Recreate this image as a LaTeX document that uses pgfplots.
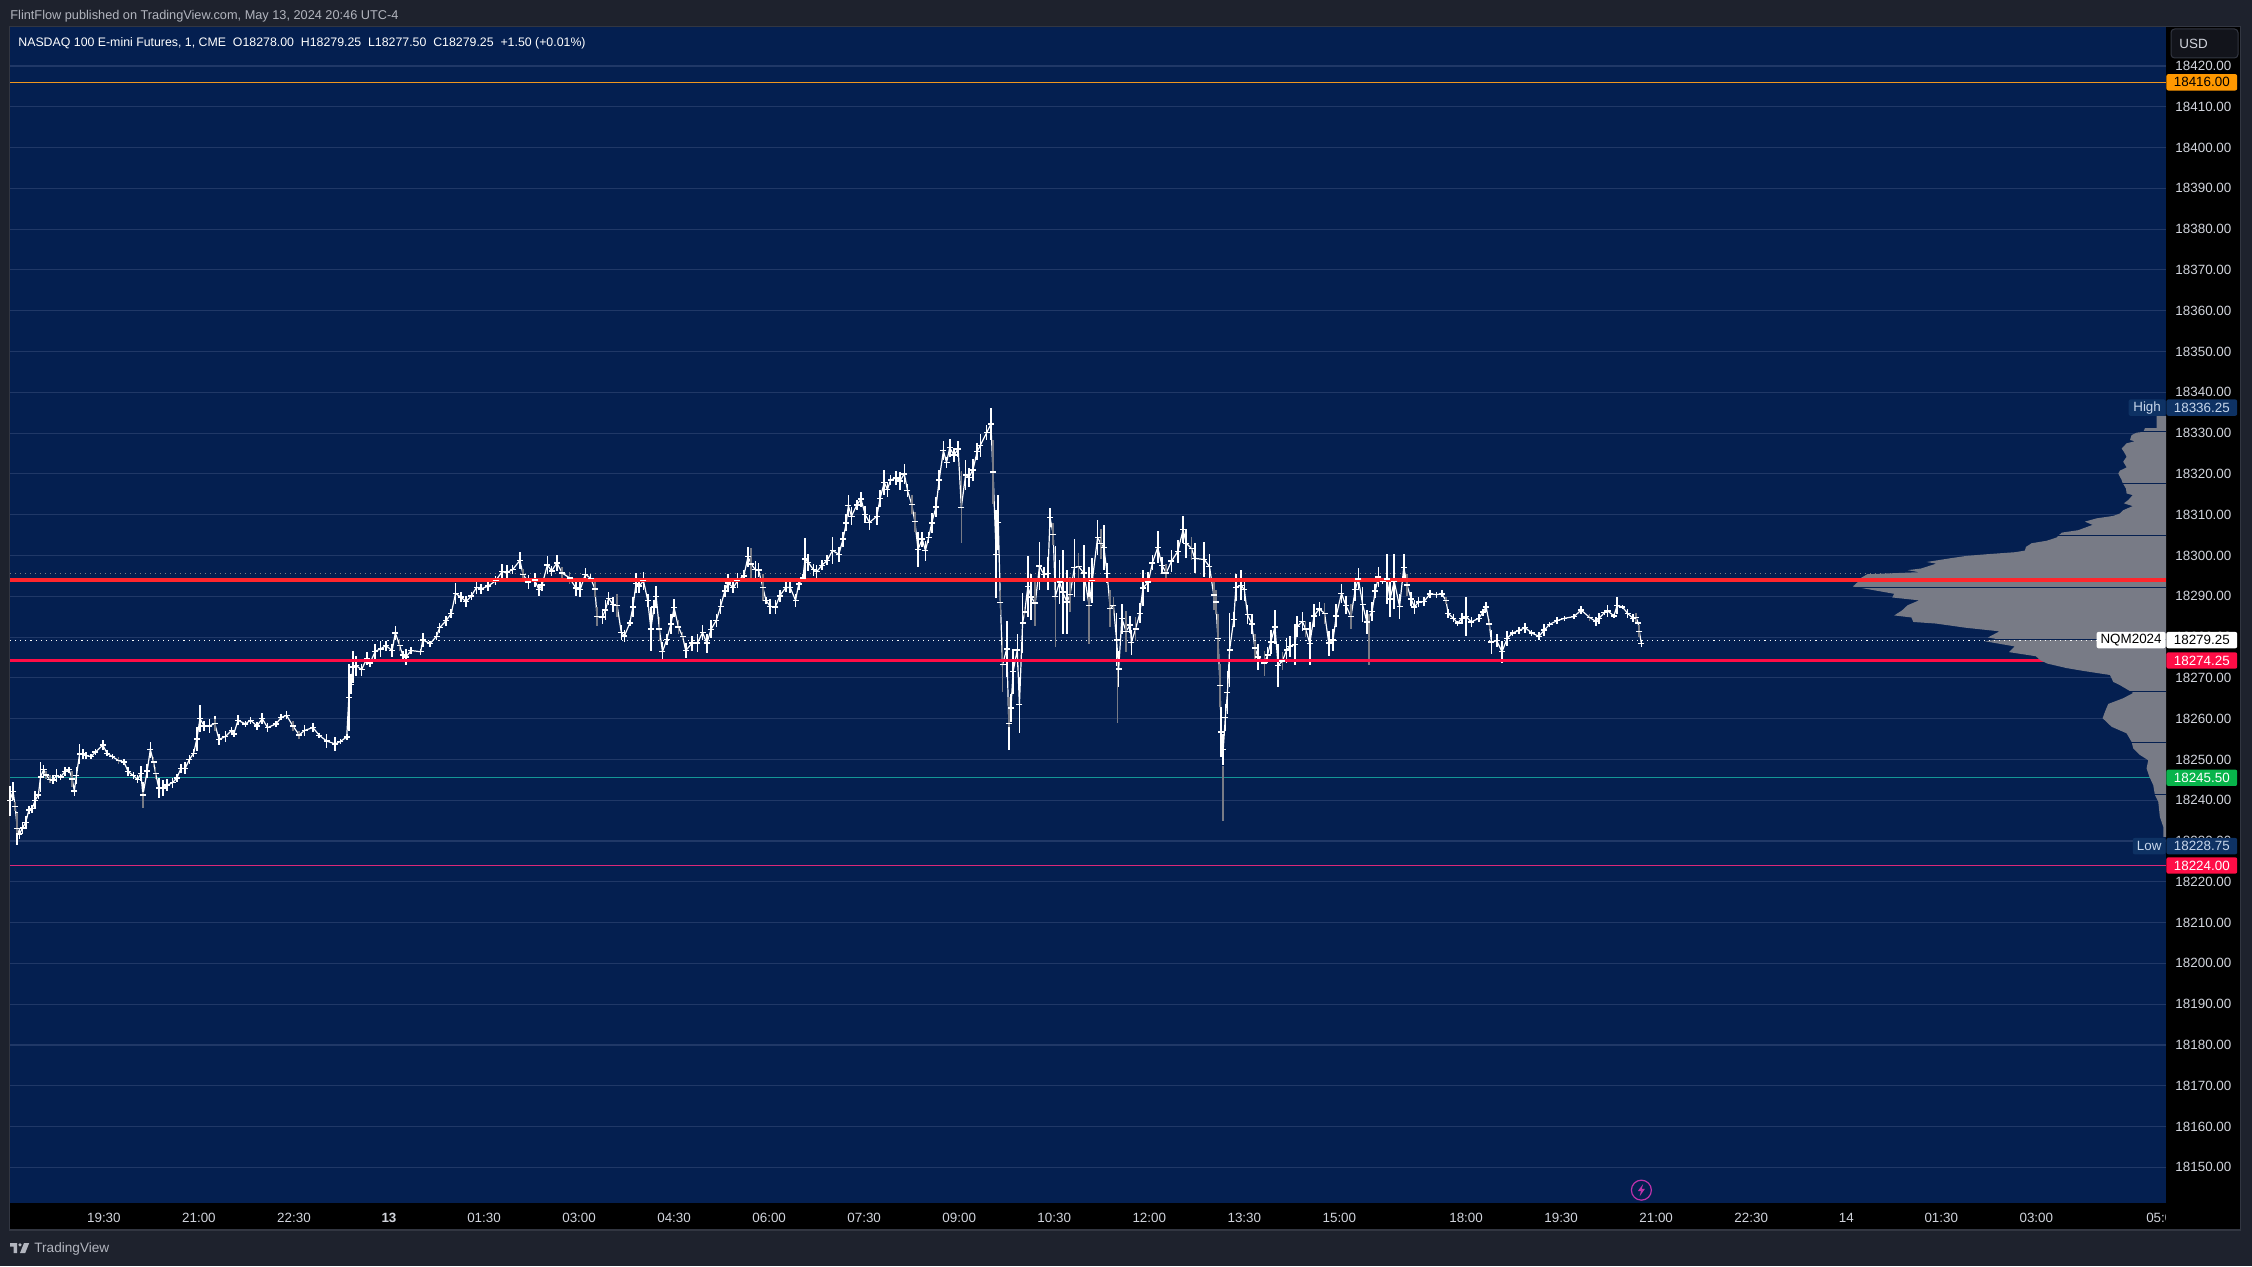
\documentclass[border=0pt]{standalone}
\usepackage{pgfplots}
\usepackage{pgfplotstable}
\pgfplotsset{compat=1.18}
\usepackage{fontspec}
\setmainfont{Liberation Sans}
\definecolor{figbg}{RGB}{30,34,45}
\definecolor{frameln}{RGB}{50,54,65}
\definecolor{navy}{RGB}{4,31,80}
\definecolor{gridc}{RGB}{32,56,103}
\definecolor{prof}{RGB}{120,123,134}
\definecolor{barg}{RGB}{120,123,134}
\definecolor{labtxt}{RGB}{209,212,220}
\definecolor{headtxt}{RGB}{178,181,190}
\definecolor{redthick}{RGB}{255,38,44}
\definecolor{crimson}{RGB}{255,13,70}
\definecolor{tealln}{RGB}{20,150,150}
\definecolor{pinkln}{RGB}{220,40,120}
\definecolor{orangeln}{RGB}{240,150,30}
\definecolor{hlbox}{RGB}{14,50,100}
\definecolor{hltxt}{RGB}{200,215,235}
\definecolor{greenbox}{RGB}{8,180,75}
\definecolor{orangebox}{RGB}{255,152,0}
\definecolor{icon}{RGB}{190,50,170}
\newcommand{\tfs}{\fontsize{6.7}{8}\selectfont}
% x = bar index (minutes of trading, 0 = 13 May 00:00), low, high
\pgfplotstableread{
x lo hi
-359 18236.3 18243.7
-356 18240.0 18244.5
-354 18237.5 18239.6
-352 18229.0 18237.1
-350 18230.6 18233.0
-347 18231.8 18234.7
-344 18233.0 18236.3
-341 18236.7 18238.8
-338 18237.1 18239.0
-335 18237.9 18242.4
-332 18240.4 18242.4
-330 18242.0 18249.4
-327 18246.5 18248.6
-325 18245.3 18247.3
-321 18244.1 18246.1
-318 18243.9 18246.1
-315 18244.5 18247.7
-311 18244.9 18246.5
-307 18246.1 18248.2
-303 18246.9 18248.4
-300 18243.2 18247.3
-298 18241.2 18243.7
-296 18244.1 18248.2
-293 18249.0 18253.9
-290 18250.2 18252.6
-287 18250.2 18251.8
-282 18250.2 18251.4
-278 18251.0 18252.6
-271 18252.2 18254.8
-267 18250.8 18252.2
-262 18250.2 18251.4
-256 18249.0 18250.6
-251 18248.6 18250.2
-247 18246.1 18248.2
-242 18245.3 18246.9
-238 18244.1 18246.1
-235 18244.9 18248.6
-233 18238.2 18244.5
-229 18245.7 18249.0
-226 18250.6 18254.5
-223 18248.2 18250.6
-221 18245.3 18248.2
-218 18240.6 18245.3
-214 18241.0 18244.9
-210 18242.4 18245.3
-205 18243.2 18245.7
-201 18244.5 18246.5
-197 18246.9 18249.0
-193 18246.5 18249.4
-189 18249.0 18251.0
-185 18250.6 18252.6
-182 18252.2 18258.0
-179 18256.7 18263.5
-175 18257.1 18259.6
-170 18256.7 18260.0
-165 18257.1 18260.6
-161 18253.5 18256.3
-155 18254.3 18257.1
-149 18256.3 18258.0
-147 18255.5 18257.1
-143 18258.4 18260.8
-136 18258.0 18259.6
-131 18258.8 18260.6
-125 18257.3 18259.2
-120 18258.8 18261.5
-115 18256.7 18258.8
-107 18258.0 18259.6
-102 18259.6 18261.1
-97 18260.0 18261.9
-91 18257.1 18259.6
-85 18255.1 18257.1
-80 18255.9 18258.4
-72 18256.7 18259.0
-66 18255.3 18256.7
-59 18253.0 18256.3
-51 18252.1 18255.5
-46 18253.9 18255.1
-40 18254.7 18256.3
-38 18257.1 18273.5
-36 18266.1 18271.0
-34 18269.0 18276.7
-31 18270.6 18275.5
-26 18270.6 18273.5
-21 18273.1 18276.3
-18 18272.7 18274.7
-13 18274.7 18278.4
-8 18275.1 18279.2
-3 18276.7 18279.2
3 18275.1 18278.4
6 18279.2 18282.7
10 18276.7 18279.6
13 18274.7 18276.7
16 18273.1 18277.2
21 18275.9 18277.6
30 18275.8 18277.2
32 18277.6 18281.2
39 18277.7 18279.2
45 18279.2 18281.2
48 18281.2 18283.7
54 18282.9 18285.3
59 18284.9 18287.0
63 18288.2 18293.5
68 18288.6 18291.0
73 18287.5 18290.2
78 18289.2 18291.0
83 18290.6 18293.9
87 18290.6 18293.1
94 18291.4 18293.9
101 18292.7 18294.9
107 18294.3 18298.0
112 18294.3 18297.6
117 18295.5 18297.6
124 18296.8 18300.8
127 18293.9 18296.8
132 18291.9 18295.1
138 18292.3 18295.9
142 18290.2 18293.1
145 18291.4 18294.3
150 18295.5 18300.0
154 18295.1 18297.6
159 18296.4 18300.2
164 18294.3 18297.2
171 18293.1 18296.0
177 18290.2 18293.9
181 18289.8 18293.5
186 18293.9 18297.2
191 18293.5 18295.5
195 18289.8 18293.9
197 18282.9 18287.4
202 18283.4 18286.6
205 18284.2 18289.1
208 18287.9 18291.1
212 18286.2 18289.9
216 18285.0 18290.7
220 18279.3 18283.0
223 18278.9 18281.8
228 18282.6 18284.2
231 18285.0 18289.9
234 18290.8 18295.8
237 18290.8 18294.4
241 18291.6 18296.0
245 18287.5 18290.8
248 18276.8 18287.5
251 18285.8 18289.1
253 18287.5 18292.4
256 18279.3 18285.0
259 18274.0 18278.9
263 18278.0 18280.9
267 18280.9 18285.8
270 18285.0 18289.5
274 18280.9 18284.2
278 18279.3 18281.3
281 18275.0 18278.5
287 18276.8 18280.5
292 18276.4 18280.9
297 18279.3 18283.0
301 18276.3 18280.9
305 18279.7 18284.2
310 18282.6 18285.8
314 18285.8 18289.5
318 18289.9 18292.8
321 18291.1 18295.6
326 18290.8 18293.6
330 18292.0 18295.6
336 18293.6 18296.4
340 18297.3 18302.2
343 18294.0 18301.8
347 18294.4 18298.9
350 18294.8 18298.1
354 18289.1 18295.6
357 18288.3 18289.9
361 18285.8 18289.5
366 18285.8 18289.1
370 18288.7 18291.6
376 18291.1 18293.6
380 18290.8 18293.6
385 18287.5 18290.8
388 18291.6 18294.4
392 18293.6 18295.6
394 18294.0 18304.5
397 18296.4 18300.5
402 18295.2 18298.1
405 18294.4 18297.7
410 18296.4 18298.9
415 18297.7 18300.1
420 18298.1 18304.6
426 18298.5 18302.2
430 18302.2 18305.9
433 18305.9 18310.0
435 18309.6 18314.9
438 18307.5 18312.0
443 18311.2 18313.6
447 18312.0 18315.7
451 18307.9 18312.0
455 18306.3 18310.0
462 18307.5 18312.0
465 18312.0 18316.1
469 18314.9 18321.0
472 18314.5 18318.1
475 18317.3 18319.8
480 18317.3 18320.6
484 18316.1 18320.6
488 18317.7 18322.6
491 18314.5 18317.7
495 18310.4 18314.9
498 18305.9 18310.8
501 18297.3 18305.9
505 18302.2 18305.9
508 18298.9 18303.8
511 18303.0 18305.9
514 18305.5 18310.4
518 18309.6 18314.5
521 18316.1 18321.0
525 18323.5 18328.0
528 18321.4 18324.3
531 18324.3 18328.8
535 18323.0 18326.3
539 18324.3 18328.0
542 18303.0 18320.6
546 18316.1 18323.5
549 18316.9 18321.4
553 18318.5 18323.9
557 18323.5 18327.5
560 18324.3 18330.0
566 18328.4 18332.0
570 18328.4 18336.3
572 18312.8 18328.4
575 18289.5 18311.2
577 18301.4 18314.9
579 18285.4 18291.6
581 18266.6 18280.0
585 18270.3 18284.2
587 18252.3 18265.4
589 18259.2 18266.2
591 18266.2 18277.2
595 18272.8 18280.9
597 18256.5 18270.3
600 18276.0 18290.8
602 18285.0 18287.5
605 18285.0 18299.8
608 18284.2 18295.6
612 18282.6 18294.0
616 18291.6 18303.4
620 18293.6 18297.3
624 18291.6 18299.7
626 18307.1 18311.6
629 18302.6 18307.9
631 18277.7 18302.2
635 18288.3 18298.9
638 18280.9 18301.4
642 18280.9 18296.4
645 18286.2 18294.8
649 18289.9 18304.2
653 18294.0 18300.6
658 18289.1 18302.6
663 18278.5 18297.3
666 18288.3 18299.3
671 18300.2 18308.7
674 18299.3 18306.7
677 18296.5 18307.5
680 18293.2 18298.1
683 18282.6 18291.6
686 18285.8 18289.9
689 18272.8 18285.8
691 18267.8 18276.8
694 18280.9 18288.3
698 18276.4 18286.6
702 18280.9 18285.0
703 18275.6 18281.8
707 18279.3 18285.0
711 18283.4 18288.3
714 18287.5 18296.5
719 18291.1 18296.0
723 18296.4 18300.1
728 18298.1 18305.9
732 18295.6 18299.7
736 18293.6 18298.1
741 18296.0 18301.4
747 18298.1 18303.8
752 18303.0 18309.6
755 18299.7 18306.7
760 18298.9 18304.6
763 18295.6 18303.0
772 18294.7 18303.3
777 18294.3 18300.4
781 18286.6 18293.9
783 18285.7 18291.5
785 18273.9 18285.7
787 18262.9 18273.5
788 18250.6 18262.9
790 18248.6 18256.3
792 18257.1 18263.7
794 18261.2 18271.9
796 18267.8 18286.1
800 18282.5 18286.1
802 18289.0 18295.5
807 18289.0 18296.4
810 18289.0 18294.3
813 18283.3 18287.8
817 18280.8 18285.7
820 18273.9 18280.8
823 18271.9 18278.4
829 18270.6 18276.7
832 18273.9 18277.6
835 18276.0 18281.7
839 18278.4 18286.6
842 18267.8 18278.4
846 18271.9 18276.3
850 18273.9 18280.0
853 18275.1 18280.4
858 18273.1 18283.3
860 18280.0 18285.3
865 18281.7 18286.2
868 18280.0 18284.1
872 18273.1 18283.7
876 18282.5 18288.2
881 18285.3 18288.6
886 18283.3 18288.6
890 18275.5 18281.7
894 18276.7 18282.1
897 18282.5 18288.2
902 18288.6 18293.1
906 18285.7 18290.2
911 18282.1 18288.2
915 18289.0 18294.3
918 18291.5 18297.0
922 18283.7 18292.3
926 18280.8 18286.6
931 18284.1 18288.6
934 18289.8 18293.1
937 18292.3 18297.2
941 18293.1 18294.3
945 18288.2 18300.4
948 18284.9 18293.9
952 18287.0 18300.4
957 18284.5 18290.6
961 18293.9 18300.6
964 18290.2 18295.5
968 18287.8 18291.1
971 18285.7 18289.0
975 18287.4 18289.8
980 18287.8 18289.8
986 18289.7 18291.6
992 18289.8 18291.3
997 18289.7 18291.5
1001 18288.2 18289.8
1003 18284.9 18287.0
1008 18283.7 18285.7
1012 18282.9 18284.1
1016 18283.3 18286.1
1020 18280.4 18289.8
1025 18282.5 18284.9
1032 18283.7 18285.7
1036 18285.3 18287.0
1039 18286.1 18288.6
1042 18282.0 18284.5
1044 18276.0 18281.7
1049 18277.6 18280.8
1054 18273.7 18279.2
1059 18278.0 18281.7
1064 18280.4 18281.7
1070 18280.7 18282.5
1076 18281.2 18283.7
1082 18280.4 18281.7
1089 18279.2 18281.2
1094 18280.4 18283.3
1099 18282.5 18283.7
1106 18283.3 18284.9
1113 18284.1 18285.3
1122 18284.5 18285.7
1129 18285.7 18287.5
1137 18284.1 18285.7
1143 18282.9 18284.9
1146 18283.3 18286.1
1151 18285.3 18286.7
1154 18284.9 18288.0
1160 18284.8 18285.7
1163 18285.7 18289.7
1168 18287.0 18288.0
1173 18284.9 18287.0
1178 18283.7 18285.7
1181 18283.7 18286.1
1183 18283.1 18283.7
1184 18280.0 18282.9
1186 18277.5 18279.2
}\pricebars
% bars that closed lower, drawn grey
\pgfplotstableread{
x lo hi
-354 18237.5 18239.6
-352 18232.0 18237.1
-325 18245.3 18247.3
-321 18244.1 18246.1
-300 18243.2 18247.3
-256 18249.0 18250.6
-233 18238.2 18242.0
-223 18248.2 18250.6
-221 18245.3 18248.2
-165 18257.1 18260.0
-91 18257.1 18259.6
-85 18255.1 18257.1
10 18276.7 18279.6
127 18293.9 18296.8
164 18294.3 18297.2
171 18293.1 18296.0
195 18289.8 18293.9
197 18282.9 18287.4
216 18285.0 18290.7
256 18279.3 18285.0
274 18280.9 18284.2
278 18279.3 18281.3
343 18294.0 18301.8
354 18289.1 18295.6
495 18310.4 18314.9
498 18305.9 18310.8
542 18303.0 18320.6
572 18312.8 18328.4
579 18285.4 18291.6
581 18266.6 18280.0
587 18258.0 18265.4
602 18285.0 18287.5
612 18282.6 18294.0
629 18302.6 18307.9
631 18277.7 18290.0
645 18286.2 18294.8
653 18294.0 18300.6
663 18278.5 18290.0
674 18299.3 18306.7
683 18282.6 18291.6
686 18285.8 18289.9
690 18259.0 18274.4
698 18276.4 18286.6
707 18279.3 18285.0
736 18293.6 18298.1
760 18298.9 18304.6
781 18286.6 18293.9
783 18285.7 18291.5
785 18273.9 18285.7
787 18262.9 18273.5
790 18235.1 18248.6
820 18273.9 18280.8
829 18270.6 18276.7
846 18271.9 18276.3
868 18280.0 18284.1
886 18283.3 18288.6
911 18282.1 18288.2
928 18273.3 18285.7
964 18290.2 18295.5
1001 18288.2 18289.8
1042 18282.0 18284.5
1137 18284.1 18285.7
1181 18283.7 18286.1
1184 18280.0 18282.9
}\downbars
% volume profile outline: left edge (in bars) against price
\pgfplotstableread{
x y
1682.8 18334.2
1673.9 18334.2
1673.9 18331.2
1662.9 18331.2
1661.3 18330.3
1655.0 18330.1
1650.2 18329.5
1648.7 18328.3
1653.4 18328.0
1645.5 18327.5
1640.8 18326.2
1643.0 18325.4
1645.5 18324.2
1642.3 18323.0
1645.5 18321.6
1639.2 18320.8
1637.6 18320.1
1640.8 18318.5
1641.7 18317.8
1644.9 18316.4
1645.5 18315.2
1651.2 18314.8
1647.1 18313.6
1643.0 18312.8
1651.2 18312.1
1642.3 18311.1
1639.2 18310.3
1632.9 18309.7
1617.1 18309.1
1606.0 18308.3
1613.3 18307.5
1599.7 18306.2
1584.0 18305.6
1579.2 18304.4
1569.7 18303.6
1555.5 18303.0
1550.2 18302.1
1549.2 18301.2
1539.8 18300.8
1512.9 18300.3
1494.0 18299.9
1478.2 18299.3
1456.2 18298.4
1465.3 18298.0
1450.8 18296.8
1438.1 18296.4
1449.0 18295.9
1400.0 18295.4
1394.6 18294.6
1391.0 18293.5
1386.3 18292.4
1403.7 18291.6
1425.4 18290.6
1423.6 18289.7
1449.0 18289.0
1438.1 18287.8
1432.7 18286.5
1425.4 18285.3
1441.7 18284.8
1443.5 18283.7
1465.3 18283.3
1492.5 18282.3
1525.1 18281.4
1514.2 18279.9
1525.1 18279.4
1510.6 18279.0
1539.6 18277.7
1534.2 18276.3
1559.5 18275.3
1563.9 18274.3
1570.4 18273.5
1588.5 18272.4
1604.5 18271.7
1629.7 18270.7
1632.9 18269.0
1639.2 18268.2
1647.1 18267.0
1651.8 18266.3
1642.3 18265.0
1628.1 18263.6
1625.0 18261.7
1622.8 18260.1
1631.3 18258.0
1645.5 18256.4
1650.2 18254.3
1651.8 18252.7
1658.1 18251.1
1666.0 18249.8
1664.4 18247.8
1667.0 18245.8
1670.7 18243.7
1672.3 18241.3
1675.5 18239.6
1677.0 18235.9
1680.2 18233.5
1680.2 18231.0
1682.8 18231.0
}\profile
\begin{document}
\begin{tikzpicture}[x=1pt,y=1pt]
\useasboundingbox (0,0) rectangle (1126,633);
\fill[figbg] (0,0) rectangle (1126,633);
\fill[black,draw=frameln,line width=0.6pt] (4.6,18) rectangle (1120.4,619.9);
\node[anchor=west,inner sep=0,text=headtxt,font=\fontsize{6.37}{8}\selectfont] at (5,625) {FlintFlow published on TradingView.com, May 13, 2024 20:46 UTC-4};
\fill[headtxt] (5,11.5) -- (8.6,11.5) -- (8.6,6.5) -- (6.8,6.5) -- (6.8,9.7) -- (5,9.7) -- cycle;
\fill[headtxt] (10,10.6) circle (0.9);
\fill[headtxt] (14.6,11.5) -- (12.6,6.5) -- (10,6.5) -- (12,11.5) -- cycle;
\node[anchor=west,inner sep=0,text=headtxt,font=\fontsize{6.8}{9}\selectfont] at (17,8.5) {TradingView};
\begin{axis}[
  at={(5pt,31.5pt)},anchor=south west,scale only axis,
  width=1078pt,height=588pt,
  xmin=-358.9,xmax=1682.8,ymin=18141.25,ymax=18429.56,
  clip=false,
  axis background/.style={fill=navy},
  axis line style={draw=none},
  major tick length=0pt,
  ymajorgrids,
  grid style={gridc,line width=0.55pt},
  ytick={18150,18160,...,18420},
  ytick pos=right,yticklabel pos=right,
  scaled y ticks=false,
  y tick label style={font=\tfs,text=labtxt,xshift=1.2pt,/pgf/number format/fixed,/pgf/number format/fixed zerofill,/pgf/number format/precision=2,/pgf/number format/1000 sep={},/pgf/number format/assume math mode=true},
  xtick={-270,-180,-90,0,90,180,270,360,450,540,630,720,810,900,1020,1110,1200,1290,1380,1470,1560,1680},
  xticklabels={19:30,21:00,22:30,\textbf{13},01:30,03:00,04:30,06:00,07:30,09:00,10:30,12:00,13:30,15:00,18:00,19:30,21:00,22:30,14,01:30,03:00,05:00},
  xtick pos=bottom,
  x tick label style={font=\tfs,text=labtxt,yshift=-1.5pt},
  after end axis/.code={
    \fill[black] (axis cs:1682.8,18141.25) rectangle ++(30pt,-13pt);
    \tikzset{pb/.style={anchor=west,inner sep=0pt,minimum width=35.4pt,minimum height=8.2pt,rounded corners=1pt,font=\tfs,align=center}}
    \node[pb,fill=orangebox,text=black] at (axis cs:1682.8,18416) {18416.00};
    \node[pb,fill=hlbox,text=hltxt] at (axis cs:1682.8,18336.25) {18336.25};
    \node[pb,fill=white,text=black] at (axis cs:1682.8,18279.25) {18279.25};
    \node[pb,fill=crimson,text=white] at (axis cs:1682.8,18274.25) {18274.25};
    \node[pb,fill=greenbox,text=white] at (axis cs:1682.8,18245.5) {18245.50};
    \node[pb,fill=hlbox,text=hltxt] at (axis cs:1682.8,18228.75) {18228.75};
    \node[pb,fill=crimson,text=white] at (axis cs:1682.8,18224) {18224.00};
    \tikzset{pl/.style={anchor=east,inner sep=0pt,minimum height=8.2pt,rounded corners=1pt,font=\tfs,align=center}}
    \node[pl,fill=hlbox,text=hltxt,minimum width=18.5pt] at (axis cs:1682.8,18336.25) {High};
    \node[pl,fill=hlbox,text=hltxt,minimum width=16.4pt] at (axis cs:1682.8,18228.75) {Low};
    \node[pl,fill=white,text=black,minimum width=34.5pt] at (axis cs:1682.8,18279.25) {NQM2024};
    \node[anchor=west,inner sep=0,text=white,font=\fontsize{6.17}{8}\selectfont] at (axis description cs:0.0037,0.9864) {NASDAQ 100 E-mini Futures, 1, CME\ \ O18278.00\ \ H18279.25\ \ L18277.50\ \ C18279.25\ \ +1.50 (+0.01\%)};
    \node[draw=icon,line width=0.6pt,circle,minimum size=10pt,inner sep=0pt] (bolt) at (axis cs:1186,18144.4) {};
    \fill[icon] ([shift={(0.9pt,3.1pt)}]bolt.center) -- ([shift={(-1.8pt,-0.5pt)}]bolt.center) -- ([shift={(-0.2pt,-0.5pt)}]bolt.center) -- ([shift={(-0.9pt,-3.1pt)}]bolt.center) -- ([shift={(1.8pt,0.7pt)}]bolt.center) -- ([shift={(0.2pt,0.7pt)}]bolt.center) -- cycle;
  }
]
% thin levels
\addplot[orangeln,line width=0.55pt] coordinates {(-358.9,18416) (1682.8,18416)};
\addplot[tealln,line width=0.55pt] coordinates {(-358.9,18245.5) (1682.8,18245.5)};
\addplot[pinkln,line width=0.55pt] coordinates {(-358.9,18224) (1682.8,18224)};
\addplot[gray,line width=0.5pt,dotted] coordinates {(-358.9,18295.5) (1682.8,18295.5)};
% price
\addplot[white,line width=0.6pt] table[x=x,y expr=(\thisrow{lo}+\thisrow{hi})/2] {\pricebars};
\addplot[white,only marks,mark=-,mark size=1.5pt,mark options={line width=0.7pt},
  error bars/.cd,y dir=both,y explicit,error mark=none,error bar style={white,line width=0.8pt}]
  table[x=x,y expr=(\thisrow{lo}+\thisrow{hi})/2,y error expr=(\thisrow{hi}-\thisrow{lo})/2] {\pricebars};
\addplot[draw=none,mark=none,
  error bars/.cd,y dir=both,y explicit,error mark=none,error bar style={barg,line width=0.8pt}]
  table[x=x,y expr=(\thisrow{lo}+\thisrow{hi})/2,y error expr=(\thisrow{hi}-\thisrow{lo})/2] {\downbars};
% levels
\addplot[crimson,line width=1.5pt] coordinates {(-358.9,18274.25) (1682.8,18274.25)};
% volume profile
\addplot[fill=prof,draw=none] table[x=x,y=y] {\profile} -- cycle;
\addplot[navy,line width=0.5pt] coordinates {(1630,18330.5) (1682.8,18330.5)};
\addplot[navy,line width=0.5pt] coordinates {(1630,18317.7) (1682.8,18317.7)};
\addplot[navy,line width=0.5pt] coordinates {(1560,18304.9) (1682.8,18304.9)};
\addplot[navy,line width=0.5pt] coordinates {(1380,18292.2) (1682.8,18292.2)};
\addplot[navy,line width=0.5pt] coordinates {(1500,18279.5) (1682.8,18279.5)};
\addplot[navy,line width=0.5pt] coordinates {(1640,18266.7) (1682.8,18266.7)};
\addplot[navy,line width=0.5pt] coordinates {(1640,18254.2) (1682.8,18254.2)};
\addplot[navy,line width=0.5pt] coordinates {(1660,18241.4) (1682.8,18241.4)};
% top levels
\addplot[redthick,line width=2.1pt] coordinates {(-358.9,18293.9) (1682.8,18293.9)};
\addplot[white,line width=0.55pt,dotted] coordinates {(-358.9,18279.25) (1682.8,18279.25)};
\end{axis}
\fill[figbg!60!black,draw=frameln,line width=0.5pt,rounded corners=1.8pt] (1085.5,604) rectangle (1119,618.5);
\node[anchor=west,inner sep=0,text=labtxt,font=\tfs] at (1089.5,611.2) {USD};
\end{tikzpicture}
\end{document}
